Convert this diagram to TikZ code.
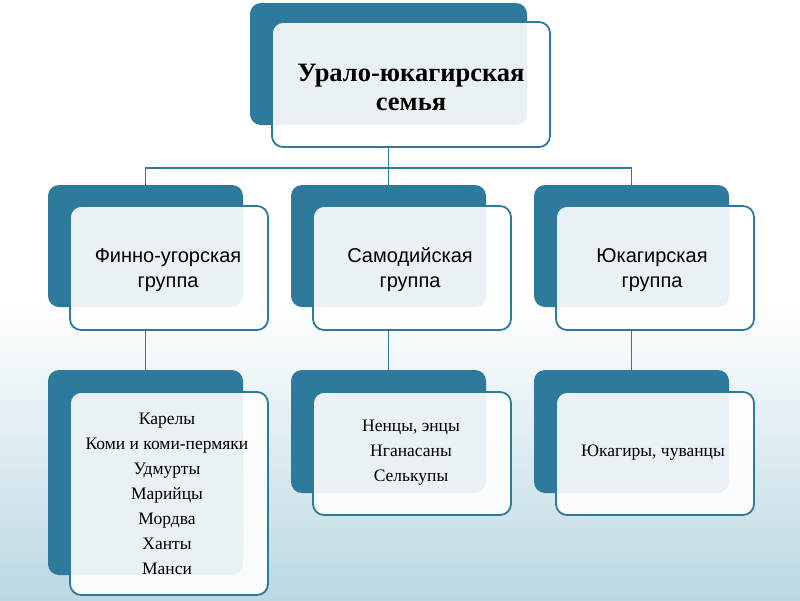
\documentclass[tikz,border=0pt]{standalone}
\usepackage{fontspec}
\setmainfont{Liberation Serif}
\newfontfamily\grpfont{Liberation Sans}
\usetikzlibrary{calc}
\begin{document}
\begin{tikzpicture}[x=1pt,y=-1pt,
  dk/.style={fill=dkblue,rounded corners=11pt,minimum width=#1},
  fr/.style={fill=white,fill opacity=0.9,draw=dkblue,line width=1.8pt,rounded corners=11pt},
  ln/.style={draw=dkblue,line width=1.8pt},
  lst/.style={font=\fontsize{17.5}{25}\selectfont,align=center,text=black}]
\definecolor{dkblue}{HTML}{2D7A9C}
\definecolor{bgb}{HTML}{BBD8E2}
\shade[top color=white,bottom color=bgb,middle color=white] (0,0) rectangle (800,600);
\useasboundingbox (0,0) rectangle (800,600);
% top
\node[dk,minimum width=277,minimum height=122] (td) at (388.5,64) {};
\node[fr,minimum width=278,minimum height=125] (tf) at (411,84.5) {};
% row 2
\foreach \n/\dx in {a/0,b/243,c/486}{
  \node[dk,minimum width=195,minimum height=122] (\n d) at (145.5+\dx,246) {};
  \node[fr,minimum width=198,minimum height=124] (\n f) at (169+\dx,268) {};
}
% row 3
\node[dk,minimum width=195,minimum height=205] (ad3) at (145.5,472.5) {};
\node[fr,minimum width=198,minimum height=203] (af3) at (169,493.5) {};
\foreach \n/\dx in {b/243,c/486}{
  \node[dk,minimum width=195,minimum height=123] (\n d3) at (145.5+\dx,431.5) {};
  \node[fr,minimum width=198,minimum height=123] (\n f3) at (169+\dx,453.5) {};
}
% connectors
\coordinate (bus) at ($(tf.south -| td.center)+(0,20)$);
\draw[ln] (tf.south -| td.center) -- (bus);
\draw[ln] (ad.north) |- (bus) -| (cd.north);
\draw[ln] (bus) -- (bd.north);
\foreach \n in {a,b,c}{ \draw[ln] (\n f.south -| \n d.center) -- (\n d3.north); }
% texts
\node[font=\bfseries\fontsize{26.5}{29}\selectfont,align=center] (tt) at (411,87) {Урало-юкагирская\\семья};
\node[font=\grpfont\fontsize{20}{25}\selectfont,align=center] (ta) at (168,270) {Финно-угорская\\группа};
\node[font=\grpfont\fontsize{20}{25}\selectfont,align=center] (tb) at (410,270) {Самодийская\\группа};
\node[font=\grpfont\fontsize{20}{25}\selectfont,align=center] (tc) at (652,270) {Юкагирская\\группа};
\node[lst] (la) at (167,494) {Карелы\\Коми и коми-пермяки\\Удмурты\\Марийцы\\Мордва\\Ханты\\Манси};
\node[lst] (lb) at (411,453) {Ненцы, энцы\\Нганасаны\\Селькупы};
\node[lst] (lc) at (653,453) {Юкагиры, чуванцы};
\end{tikzpicture}
\end{document}
